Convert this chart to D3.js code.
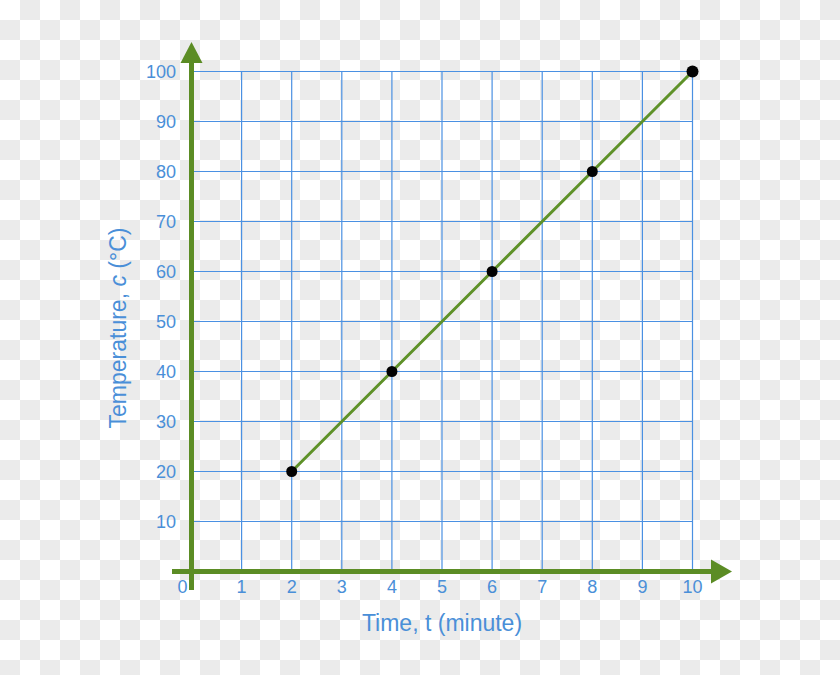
<!DOCTYPE html>
<html><head><meta charset="utf-8">
<script src="https://cdn.jsdelivr.net/npm/d3@7"></script>
<style>body{margin:0;}svg{display:block;}</style>
</head><body>
<script>
const times = [2, 4, 6, 8, 10];
const temps = [20, 40, 60, 80, 100];
const xTicks = [0,1,2,3,4,5,6,7,8,9,10];
const yTicks = [10,20,30,40,50,60,70,80,90,100];
const xTitle = "Time, t (minute)";

const W = 840, H = 675;
const svg = d3.select("body").append("svg").attr("width", W).attr("height", H);

// checkerboard background
svg.append("rect").attr("width",W).attr("height",H).attr("fill","#ffffff");
const cells = [];
for (let i = 0; i < Math.ceil(W/20); i++)
  for (let j = 0; j < Math.ceil(H/20); j++)
    if ((i + j) % 2 === 1) cells.push([i, j]);
svg.append("g").selectAll("rect").data(cells).join("rect")
  .attr("x", d => d[0]*20).attr("y", d => d[1]*20)
  .attr("width", 20).attr("height", 20).attr("fill", "#ebebeb");

const x = d3.scaleLinear().domain([0,10]).range([191.5, 692.5]);
const y = d3.scaleLinear().domain([0,100]).range([571.5, 71.5]);

const blue = "#4a90e2";
const txt = "#4a8fd8";
const green = "#5b8c24";

// grid
svg.append("g").selectAll("line").data(xTicks.slice(1)).join("line")
  .attr("x1", d => x(d)).attr("x2", d => x(d))
  .attr("y1", y(0)).attr("y2", y(100))
  .attr("stroke", blue).attr("stroke-width", 1.2);
svg.append("g").selectAll("line").data(yTicks).join("line")
  .attr("x1", x(0)).attr("x2", x(10))
  .attr("y1", d => y(d)).attr("y2", d => y(d))
  .attr("stroke", blue).attr("stroke-width", 1.2);

// axes lines with arrows
svg.append("line").attr("x1", 172).attr("x2", 712).attr("y1", y(0)).attr("y2", y(0))
  .attr("stroke", green).attr("stroke-width", 5);
svg.append("path").attr("d", `M711,${y(0)-12} L732,${y(0)} L711,${y(0)+12} Z`).attr("fill", green);
svg.append("line").attr("x1", x(0)).attr("x2", x(0)).attr("y1", 590).attr("y2", 60)
  .attr("stroke", green).attr("stroke-width", 5);
svg.append("path").attr("d", `M${x(0)-11},63 L${x(0)},42 L${x(0)+11},63 Z`).attr("fill", green);

// tick labels
const font = "Liberation Sans, Arial, Helvetica, sans-serif";
svg.append("g").selectAll("text").data(xTicks).join("text")
  .attr("x", d => d === 0 ? x(0) - 9 : x(d))
  .attr("y", 593)
  .attr("text-anchor", "middle")
  .attr("font-family", font).attr("font-size", 18).attr("fill", txt)
  .text(d => d);
svg.append("g").selectAll("text").data(yTicks).join("text")
  .attr("x", 176)
  .attr("y", d => y(d) + 6.5)
  .attr("text-anchor", "end")
  .attr("font-family", font).attr("font-size", 18).attr("fill", txt)
  .text(d => d);

// axis titles
svg.append("text").attr("x", 442).attr("y", 631).attr("text-anchor","middle")
  .attr("font-family", font).attr("font-size", 23).attr("fill", txt).text(xTitle);
const yt = svg.append("text").attr("transform", "translate(126,328) rotate(-90)")
  .attr("text-anchor","middle").attr("font-family", font).attr("font-size", 23).attr("fill", txt);
yt.append("tspan").text("Temperature, ");
yt.append("tspan").attr("font-style","italic").text("c");
yt.append("tspan").text(" (°C)");

// data line
const data = times.map((t,i) => ({t, c: temps[i]}));
svg.append("path").datum(data)
  .attr("d", d3.line().x(d => x(d.t)).y(d => y(d.c)))
  .attr("fill","none").attr("stroke", "#5e9128").attr("stroke-width", 3);
svg.append("g").selectAll("circle").data(data).join("circle")
  .attr("cx", d => x(d.t)).attr("cy", d => y(d.c))
  .attr("r", d => d.t === 10 ? 6 : 5.5).attr("fill", "#000");
</script>
</body></html>
